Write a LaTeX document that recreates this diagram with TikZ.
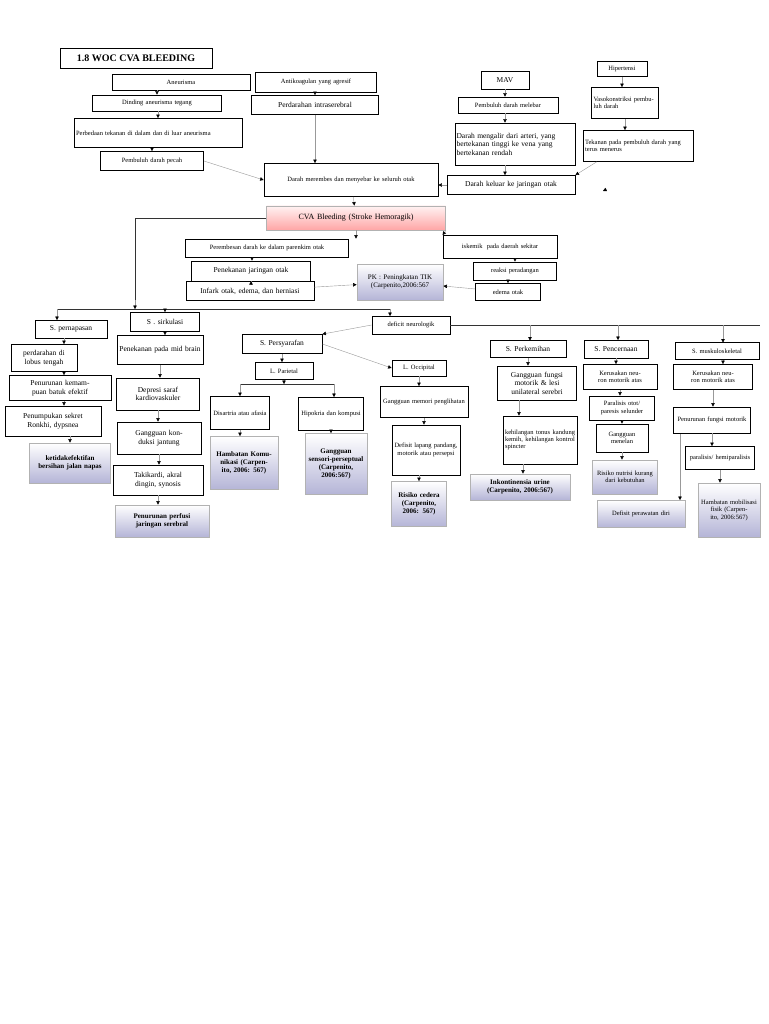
\documentclass[tikz,border=0pt]{standalone}
\usepackage{fontspec}
\setmainfont{Liberation Serif}
\usetikzlibrary{arrows.meta}
\tikzset{
 bx/.style={draw,thick,fill=white,align=center,inner sep=1pt,font=\fontsize{6.5}{7.3}\selectfont},
 bm/.style={bx,font=\fontsize{7.5}{8.5}\selectfont},
 bl/.style={bx,draw=gray!60,top color=white,bottom color=blue!30!gray!45,font=\bfseries\fontsize{7}{8}\selectfont},
 pk/.style={bx,draw=gray!60,top color=red!5,bottom color=red!35,font=\fontsize{8}{9}\selectfont},
 ar/.style={draw=gray!80,line width=0.4pt,-{Triangle[length=3.5pt,width=3.5pt,black]}},
 ln/.style={draw=black!80,line width=0.6pt},
}
\newcommand{\bx}[7][bx]{\node[#1,minimum width=#5pt,minimum height=#6pt,text width=#5pt-4pt] (#2) at (#3,#4) {#7};}
\newcommand{\dn}[3]{\draw[ar] ([xshift=#3pt]#1.south) -- ([xshift=#3pt]#1.south|-#2.north);}
\begin{document}
\begin{tikzpicture}[x=1pt,y=-1pt]
\useasboundingbox[fill=white] (0,0) rectangle (768,1024);
\node[bx,minimum width=152pt,minimum height=20pt,font=\bfseries\fontsize{10}{11}\selectfont] (title) at (136,58) {1.8 WOC CVA BLEEDING};
\bx{aneu}{181}{82}{138}{16}{Aneurisma}
\bx{dind}{157}{103}{129}{16}{Dinding aneurisma tegang}
\node[bx,minimum width=168pt,minimum height=29pt,text width=164pt,align=left] (perb) at (158,133) {Perbedaan tekanan di dalam dan di luar aneurisma};
\bx{pecah}{152}{161}{103}{19}{Pembuluh darah pecah}
\bx{antik}{316}{82}{121}{20}{Antikoagulan yang agresif}
\bx[bm]{perd}{315}{105}{127}{19}{Perdarahan intraserebral}
\bx{mere}{351}{180}{174}{33}{Darah merembes dan menyebar ke seluruh otak}
\bx[pk]{cva}{356}{218}{179}{24}{CVA Bleeding (Stroke Hemoragik)}
\bx[bm]{mav}{505}{80}{48}{18}{MAV}
\bx{pemb}{508}{105}{100}{16}{Pembuluh darah melebar}
\node[bm,minimum width=120pt,minimum height=42pt,text width=117pt,align=left] (darm) at (515,144) {Darah mengalir dari arteri, yang bertekanan tinggi ke vena yang bertekanan rendah};
\bx{hip}{622}{69}{50}{15}{Hipertensi}
\node[bx,minimum width=67pt,minimum height=31pt,text width=63pt,align=left] (vaso) at (625,103) {Vasokonstriksi pembuluh darah};
\node[bx,minimum width=110pt,minimum height=31pt,text width=106pt,align=left] (tek) at (638,146) {Tekanan pada pembuluh darah yang terus menerus};
\bx[bm]{kel}{511}{185}{128}{19}{Darah keluar ke jaringan otak}
\coordinate (stray) at (603,191);
\draw[ar] (607,189) -- (stray);
\bx{peremb}{267}{248}{163}{18}{Perembesan darah ke dalam parenkim otak}
\bx{isk}{500}{247}{114}{23}{iskemik\ \ pada daerah sekitar}
\bx[bm]{pene}{251}{271}{119}{20}{Penekanan jaringan otak}
\bx[bm]{infark}{250}{291}{128}{19}{Infark otak, edema, dan herniasi}
\bx[bx,draw=gray!60,top color=white,bottom color=blue!30!gray!45,font=\fontsize{7}{8}\selectfont]{pkt}{400}{282}{86}{36}{PK : Peningkatan TIK (Carpenito,2006:567}
\bx{reak}{515}{271}{83}{18}{reaksi peradangan}
\bx{edem}{508}{292}{65}{17}{edema otak}
% connectors top
\draw[ar] (aneu.south-|dind) -- (dind);
\draw[ar] (dind.south-|perb) -- (perb);
\draw[ar] (perb.south-|pecah) -- (pecah);
\draw[ar] (pecah.east) -- (mere.west);
\draw[ar] (antik.south-|perd) -- (perd);
\dn{perd}{mere}{0}
\draw[ar] (mav) -- (pemb.north-|mav);
\draw[ar] (pemb.south-|mav) -- (darm.north-|mav);
\draw[ar] (darm.south-|mav) -- (kel.north-|mav);
\draw[ar] (hip) -- (vaso.north-|hip);
\dn{vaso}{tek}{0}
\draw[ar] ([xshift=14pt]tek.south west) -- (kel.north east);
\draw[ar] (kel.west) -- (mere.east|-kel.west);
\draw[ar] (mere) -- (cva);
\dn{cva}{peremb}{0}
\draw[ar] (cva.south east) -- (isk.north west);
\dn{peremb}{pene}{-15}
\dn{pene}{infark}{0}
\draw[ar] (infark) -- (pkt);
\dn{isk}{reak}{15}
\dn{reak}{edem}{-7}
\draw[ar] (edem) -- (pkt);
% left branch
\coordinate (b0) at (135,309);
\draw[ln] (cva.west) -| (135,303);
\draw[ar] (135,300) -- (b0);
\draw[ln] (57,309) -- (390,309);
\bx[bm]{spern}{71}{329}{72}{18}{S. pernapasan}
\bx[bm]{ssirk}{165}{322}{69}{19}{S . sirkulasi}
\bx{defi}{411}{325}{78}{18}{deficit neurologik}
\draw[ar] (57,309) -- (57,320);
\draw[ar] (ssirk.north|-b0) -- (ssirk.north);
\draw[ar] (390,309) -- (390,316);
\bx[bm]{perl}{44}{358}{66}{27}{perdarahan di lobus tengah}
\bx[bm]{penk}{60}{388}{102}{25}{Penurunan kemampuan batuk efektif}
\bx[bm]{penu}{53}{421}{96}{30}{Penumpukan sekret Ronkhi, dypsnea}
\bx[bl]{keti}{70}{463}{81}{40}{ketidakefektifan bersihan jalan napas}
\dn{spern}{perl}{-7}
\dn{perl}{penk}{20}
\dn{penk}{penu}{4}
\dn{penu}{keti}{17}
\bx[bm]{mid}{160}{350}{86}{29}{Penekanan pada mid brain}
\bx[bm]{depr}{158}{394}{83}{32}{Depresi saraf kardiovaskuler}
\bx[bm]{kond}{159}{438}{84}{32}{Gangguan konduksi jantung}
\bx[bm]{taki}{158}{480}{90}{30}{Takikardi, akral dingin, synosis}
\bx[bl]{perf}{162}{521}{94}{32}{Penurunan perfusi jaringan serebral}
\draw[ar] (ssirk) -- (mid.north-|ssirk);
\dn{mid}{depr}{0}
\dn{depr}{kond}{0}
\dn{kond}{taki}{0}
\dn{taki}{perf}{0}
% middle
\bx[bm]{spers}{282}{344}{80}{19}{S. Persyarafan}
\bx{lpar}{284}{371}{58}{17}{L. Parietal}
\bx{locc}{419}{368}{54}{16}{L. Occipital}
\draw[ar] (defi.west) -- (spers.north east);
\dn{spers}{lpar}{0}
\draw[ar] (spers.east) -- (locc.west);
\bx{dis}{240}{413}{59}{33}{Disartria atau afasia}
\bx{hipo}{331}{414}{65}{33}{Hipokria dan kompusi}
\draw[ar] (lpar) -- (284,384);
\draw[ln] (240,384) -- (334,384);
\draw[ar] (240,384) -- (dis.north);
\draw[ar] (334,384) -- (334,397);
\bx[bl]{hamk}{244}{463}{68}{53}{Hambatan Komunikasi (Carpenito, 2006: 567)}
\bx[bl]{gsen}{336}{464}{62}{61}{Gangguan sensori-perseptual (Carpenito, 2006:567)}
\dn{dis}{hamk}{0}
\dn{hipo}{gsen}{0}
\bx{gmem}{424}{402}{88}{31}{Gangguan memori penglihatan}
\bx{dlap}{426}{450}{68}{50}{Defisit lapang pandang, motorik atau persepsi\\[10pt]}
\bx[bl]{ris}{419}{504}{55}{45}{Risiko cedera (Carpenito, 2006: 567)}
\draw[ar] (locc) -- (gmem.north-|locc);
\dn{gmem}{dlap}{0}
\draw[ar] (dlap.south-|ris) -- (ris);
% right bus
\draw[ln] (defi.east) -- (760,325);
\bx[bm]{sperk}{528}{349}{76}{17}{S. Perkemihan}
\bx[bm]{spenc}{616}{349}{64}{18}{S. Pencernaan}
\bx{smus}{717}{351}{84}{17}{S. muskuloskeletal}
\draw[ar] (530,325) -- (530,340.5);
\draw[ar] (618,325) -- (618,340);
\draw[ar] (723,325) -- (723,342.5);
\bx[bm]{gfun}{537}{383}{79}{34}{Gangguan fungsi motorik \& lesi unilateral serebri}
\node[bx,minimum width=74pt,minimum height=48pt,text width=70pt,align=justify] (kehi) at (540,440) {kehilangan tonus kandung kemih, kehilangan kontrol spincter};
\bx[bl]{inko}{520}{487}{100}{26}{Inkontinensia urine (Carpenito, 2006:567)}
\dn{sperk}{gfun}{0}
\dn{gfun}{kehi}{-18}
\dn{kehi}{inko}{-17}
\bx{kers}{620}{377}{74}{25}{Kerusakan neuron motorik atas}
\bx{paro}{622}{408}{65}{24}{Paralisis otot/ paresis selunder}
\bx{gmen}{622}{438}{52}{28}{Gangguan menelan}
\bx[bl,font=\fontsize{6.5}{7.5}\selectfont]{rnut}{625}{477}{65}{34}{Risiko nutrisi kurang dari kebutuhan}
\bx[bl,font=\fontsize{6.5}{7.5}\selectfont]{dper}{641}{514}{88}{27}{Defisit perawatan diri}
\dn{spenc}{kers}{0}
\dn{kers}{paro}{0}
\dn{paro}{gmen}{0}
\dn{gmen}{rnut}{0}
\draw[ar] (680,433) -- (680,500);
\bx{kers2}{713}{377}{79}{25}{Kerusakan neuron motorik atas}
\bx{penf}{712}{420}{77}{26}{Penurunan fungsi motorik}
\bx{para}{720}{458}{69}{23}{paralisis/ hemiparalisis}
\bx[bl,font=\fontsize{6.5}{7.5}\selectfont]{hamm}{729}{510}{62}{54}{Hambatan mobilisasi fisik (Carpenito, 2006:567)}
\dn{smus}{kers2}{6}
\dn{kers2}{penf}{0}
\dn{penf}{para}{0}
\dn{para}{hamm}{0}
\end{tikzpicture}
\end{document}
